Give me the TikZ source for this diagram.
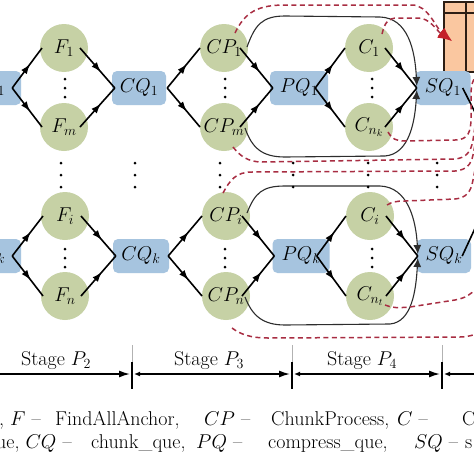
\RequirePackage{fix-cm}
\documentclass[tikz,border=0pt]{standalone}
\usetikzlibrary{arrows.meta,decorations.markings}
\definecolor{procgreen}{RGB}{198,209,165}
\definecolor{queblue}{RGB}{166,196,223}
\definecolor{reddash}{RGB}{168,45,66}
\definecolor{redtip}{RGB}{196,32,42}
\definecolor{tableorange}{RGB}{250,199,160}
\definecolor{tableline}{RGB}{45,30,20}
\definecolor{bypassgray}{RGB}{45,45,45}
\newcommand\fsz{\fontsize{20}{24}\selectfont}
\begin{document}
\begin{tikzpicture}[x=1pt,y=-1pt,
  proc/.style={circle, fill=procgreen, minimum size=48pt, inner sep=0pt, font=\fsz},
  que/.style={rectangle, rounded corners=5pt, fill=queblue, minimum width=56pt, minimum height=34pt, inner sep=0pt, font=\fsz},
  flow/.style={line width=1.6pt, postaction={decorate},
    decoration={markings, mark=at position 0.6 with {\arrow{Latex[length=10pt,width=7pt]}}}},
  bypass/.style={line width=1.1pt, draw=bypassgray, -{Latex[length=9pt,width=8pt]}},
  redflow/.style={draw=reddash, line width=1.5pt, dash pattern=on 5pt off 3.5pt},
  redend/.style={redflow, -{Latex[length=14pt,width=11pt,color=redtip]}},
  legend/.style={anchor=base west, inner sep=0pt, font=\fsz},
  stagelbl/.style={anchor=base, inner sep=0pt, font=\fsz},
  dotmark/.style={fill=black}
]
\path[use as bounding box] (0,0) rectangle (474,474);
\clip (0,0) rectangle (474,474);
\fill[white] (0,0) rectangle (474,474);

% ---------- table at top right ----------
\node[draw=tableline, line width=1.6pt, fill=tableorange, minimum width=50pt, minimum height=70pt, anchor=north west, inner sep=0pt] (tbl) at (443,1) {};
\draw[tableline, line width=1.6pt] (443,13) -- (495,13);
\draw[tableline, line width=1.6pt] (466,1) -- (466,71);

% ---------- row 1 ----------
\node[que, minimum width=70pt] (rq1) at (-14,88) {$RQ_1$};
\node[proc] (f1) at (64,48) {$F_1$};
\node[proc] (fm) at (64,127) {$F_m$};
\node[que, minimum width=54pt] (cq1) at (139,88) {$CQ_1$};
\node[proc] (cp1) at (224,48) {$CP_1$};
\node[proc] (cpm) at (224,127) {$CP_m$};
\node[que, minimum width=58pt] (pq1) at (299,88) {$PQ_1$};
\node[proc] (c1) at (369,48) {$C_1$};
\node[proc] (cnk) at (369,127) {$C_{n_k}$};
\node[que, minimum width=55pt] (sq1) at (443,88) {$SQ_1$};

% ---------- row 2 ----------
\node[que, minimum width=70pt] (rqk) at (-14,256) {$RQ_k$};
\node[proc] (fi) at (65,216) {$F_i$};
\node[proc] (fn) at (65,296) {$F_n$};
\node[que, minimum width=56pt] (cqk) at (141,256) {$CQ_k$};
\node[proc] (cpi) at (226,216) {$CP_i$};
\node[proc] (cpn) at (226,296) {$CP_n$};
\node[que, minimum width=57pt] (pqk) at (301,256) {$PQ_k$};
\node[proc] (ci) at (370,216) {$C_i$};
\node[proc] (cnt) at (370,296) {$C_{n_t}$};
\node[que, minimum width=54pt] (sqk) at (444,256) {$SQ_k$};

% ---------- vertices ----------
\coordinate (rq1o) at ([xshift=-9pt]rq1.east);
\coordinate (cq1i) at ([xshift=3pt]cq1.west);
\coordinate (cq1o) at ([xshift=1pt]cq1.east);
\coordinate (pq1i) at ([xshift=3pt]pq1.west);
\coordinate (pq1o) at ([xshift=-13pt]pq1.east);
\coordinate (sq1i) at ([xshift=1.5pt]sq1.west);
\coordinate (sq1o) at ([xshift=-8pt]sq1.east);
\coordinate (rqko) at ([xshift=-9pt]rqk.east);
\coordinate (cqki) at ([xshift=3pt]cqk.west);
\coordinate (cqko) at ([xshift=-1pt]cqk.east);
\coordinate (pqki) at ([xshift=2pt]pqk.west);
\coordinate (pqko) at ([xshift=-13pt]pqk.east);
\coordinate (sqki) at ([xshift=1pt]sqk.west);
\coordinate (sqko) at ([xshift=-9pt]sqk.east);
\coordinate (sq1next) at (490,142);
\coordinate (sqknext) at (490,196);

% ---------- bypass curves ----------
\draw[bypass] ([shift={(23,-1)}]cp1.center) .. controls (255,25) and (262,16) .. (285,16) -- (380,17) .. controls (408,18) and (415,50) .. ([yshift=2pt]sq1i);
\draw[bypass] ([shift={(21,1)}]cpm.center) .. controls (252,148) and (262,157) .. (285,157) -- (385,156) .. controls (410,154) and (415,120) .. ([yshift=-2pt]sq1i);
\draw[bypass] ([shift={(21,-3)}]cpi.center) .. controls (255,193) and (262,186) .. (285,186) -- (380,186) .. controls (408,187) and (416,220) .. ([yshift=2pt]sqki);
\draw[bypass] ([shift={(19,1)}]cpn.center) .. controls (252,315) and (262,325) .. (285,325) -- (390,324) .. controls (412,322) and (416,290) .. ([yshift=-2pt]sqki);

% ---------- flow connectors ----------
\foreach \q/\a/\b in {rq1o/f1/fm, rqko/fi/fn}{
  \draw[flow] (\q) -- ([xshift=-22pt]\a.center);
  \draw[flow] (\q) -- ([xshift=-22pt]\b.center);
}
\foreach \a/\b/\q in {f1/fm/cq1i, fi/fn/cqki, cp1/cpm/pq1i, cpi/cpn/pqki, c1/cnk/sq1i, ci/cnt/sqki}{
  \draw[flow] ([xshift=16pt]\a.center) -- (\q);
  \draw[flow] ([xshift=16pt]\b.center) -- (\q);
}
\foreach \q/\a/\b in {cq1o/cp1/cpm, cqko/cpi/cpn, pq1o/c1/cnk, pqko/ci/cnt}{
  \draw[flow] (\q) -- ([xshift=-24pt]\a.center);
  \draw[flow] (\q) -- ([xshift=-24pt]\b.center);
}
\draw[line width=1.6pt] (sq1o) -- (sq1next);
\draw[line width=1.6pt] (sqko) -- (sqknext);

% ---------- red dashed data paths ----------
\coordinate (tblin) at (452,41);
\draw[redend] ([shift={(11,-15)}]cp1.center) .. controls (245,12) and (258,5) .. (285,5) -- (412,5) .. controls (428,5) and (436,28) .. (tblin);
\draw[redend] ([shift={(13,-14)}]c1.center) .. controls (385,22) and (388,18) .. (398,18) -- (418,18) .. controls (430,18) and (437,31) .. (tblin);
\draw[redflow] ([shift={(19,5)}]cnk.center) .. controls (392,139) and (396,141) .. (405,141) -- (455,140) .. controls (468,140) and (471,132) .. (471,118) -- (471,95) .. controls (471,82) and (474,76) .. (482,72);
\draw[redflow] ([shift={(9,20)}]cpm.center) .. controls (240,156) and (248,162) .. (262,162) -- (455,159) .. controls (466,158) and (471,152) .. (473,140) -- (476,120);
\draw[redflow] ([shift={(-3,-23)}]cpi.center) .. controls (230,180) and (236,172) .. (252,172) -- (455,171) .. controls (466,170) and (471,165) .. (473,155) -- (476,140);
\draw[redflow] ([shift={(17,-11)}]ci.center) .. controls (392,202) and (396,201) .. (405,201) -- (455,199) .. controls (466,198) and (471,192) .. (473,180) -- (476,165);
\draw[redflow] ([shift={(15,9)}]cnt.center) .. controls (392,308) and (398,308) .. (410,307) -- (455,300) .. controls (465,298) and (471,295) .. (476,288);
\draw[redflow] ([shift={(6,32)}]cpn.center) .. controls (240,334) and (250,338) .. (268,338) -- (460,337) .. controls (468,337) and (474,335) .. (480,332);

% ---------- ellipsis dots ----------
\foreach \x in {65,225,372}{
  \foreach \y in {79,88,97,249,258,267}{ \fill[dotmark] (\x,\y) circle (1.5pt); }
}
\foreach \x in {61,135,220,293,368,437}{
  \foreach \y in {163,175,187}{ \fill[dotmark] (\x,\y) circle (1.5pt); }
}

% ---------- stage axis ----------
\foreach \x in {132,292,442}{
  \draw[gray!60, line width=0.6pt] (\x,345) -- (\x,362);
  \draw[line width=1.5pt] (\x,362) -- (\x,389);
}
\coordinate (s0) at (-20,374);
\coordinate (s1a) at (130,374); \coordinate (s1b) at (134,374);
\coordinate (s2a) at (290,374); \coordinate (s2b) at (294,374);
\coordinate (s3a) at (440,374); \coordinate (s3b) at (444,374);
\coordinate (s4) at (495,374);
\draw[line width=1.5pt, -{Latex[length=11pt,width=7pt]}] (s0) -- (s1a);
\draw[line width=1.5pt, {Latex[length=6pt,width=5pt]}-{Latex[length=11pt,width=7pt]}] (s1b) -- (s2a);
\draw[line width=1.5pt, {Latex[length=6pt,width=5pt]}-{Latex[length=11pt,width=7pt]}] (s2b) -- (s3a);
\draw[line width=1.5pt, {Latex[length=6pt,width=5pt]}-{Latex[length=11pt,width=7pt]}] (s3b) -- (s4);
\node[stagelbl] (st2) at (56,365) {Stage $P_2$};
\node[stagelbl] (st3) at (209,365) {Stage $P_3$};
\node[stagelbl] (st4) at (362,365) {Stage $P_4$};

% ---------- legend ----------
\node[legend] (l1a) at (-1,425) {, $F$ --};
\node[legend] (l1b) at (55,425) {FindAllAnchor,};
\node[legend] (l1c) at (204,425) {$CP$ --};
\node[legend] (l1d) at (271,425) {ChunkProcess,};
\node[legend] (l1e) at (397,425) {$C$ --};
\node[legend] (l1f) at (462,425) {C};
\node[legend] (l2a) at (-4,448) {ue, $CQ$ --};
\node[legend] (l2b) at (91,448) {chunk\_que,};
\node[legend] (l2c) at (196,448) {$PQ$ --};
\node[legend] (l2d) at (268,448) {compress\_que,};
\node[legend] (l2e) at (414,448) {$SQ$ --};
\node[legend] (l2f) at (465,448) {s};
\end{tikzpicture}
\end{document}
